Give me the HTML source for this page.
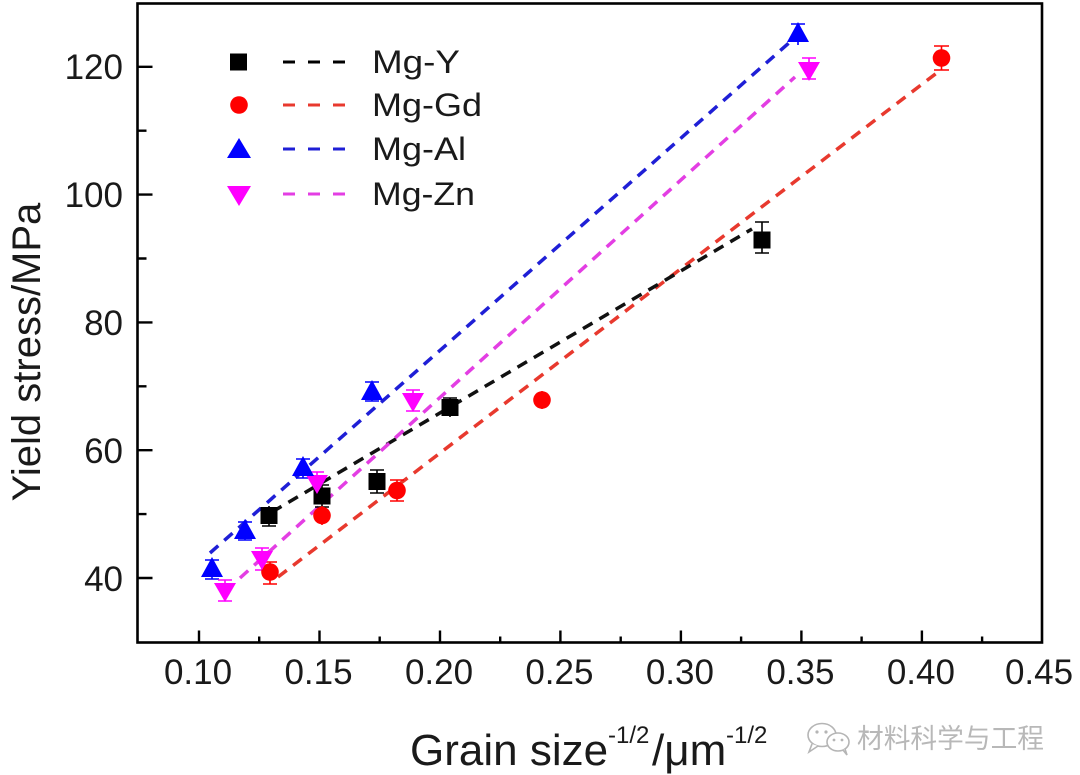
<!DOCTYPE html>
<html>
<head>
<meta charset="utf-8">
<style>
html,body{margin:0;padding:0;background:#fff;}
svg{display:block;}
</style>
</head>
<body>
<svg width="1080" height="775" viewBox="0 0 1080 775" xmlns="http://www.w3.org/2000/svg" font-family="Liberation Sans, Arial, sans-serif">
<rect width="1080" height="775" fill="#fff"/>

<!-- fitted dashed lines -->
<g fill="none" stroke-width="3.5" stroke-dasharray="11 8">
  <line x1="278" y1="577" x2="938" y2="72" stroke="#e8392e"/>
  <line x1="272" y1="512" x2="752" y2="229" stroke="#111"/>
  <line x1="240" y1="578" x2="795" y2="77" stroke="#e33ee3"/>
  <line x1="210" y1="553" x2="790" y2="42" stroke="#1f1fd6"/>
</g>

<!-- error bars -->
<g stroke-width="1.6" fill="none">
  <!-- blue -->
  <g stroke="#0000ff">
    <path d="M212 560V579M205 560H219M205 579H219"/>
    <path d="M245 522V540M238 522H252M238 540H252"/>
    <path d="M303 459V478M296 459H310M296 478H310"/>
    <path d="M372 382V401M365 382H379M365 401H379"/>
    <path d="M798 24V45M791 24H805"/>
  </g>
  <!-- magenta -->
  <g stroke="#ff00ff">
    <path d="M225 580V601M218 580H232M218 601H232"/>
    <path d="M262 548V570M255 548H269M255 570H269"/>
    <path d="M317 472V493M310 472H324"/>
    <path d="M413 390V411M406 390H420M406 411H420"/>
    <path d="M809 58V79M802 58H816M802 79H816"/>
  </g>
  <!-- black -->
  <g stroke="#000">
    <path d="M269 506V526M262 526H276"/>
    <path d="M322 485V507M315 485H329M315 507H329"/>
    <path d="M377 470V493M370 470H384M370 493H384"/>
    <path d="M450 398V417M443 398H457"/>
    <path d="M762 222V253M755 222H769M755 253H769"/>
  </g>
  <!-- red -->
  <g stroke="#ff0000">
    <path d="M270 562V584M263 562H277M263 584H277"/>
    <path d="M322 506V525"/>
    <path d="M397 480V501M390 480H404M390 501H404"/>
    <path d="M542 391V409"/>
    <path d="M941.5 46V70M934 46H949M934 70H949"/>
  </g>
</g>

<!-- markers -->
<g fill="#ff0000">
  <circle cx="270" cy="572" r="8.8"/>
  <circle cx="322" cy="515.5" r="8.8"/>
  <circle cx="397" cy="490.5" r="8.8"/>
  <circle cx="542" cy="400" r="8.8"/>
  <circle cx="941.5" cy="58" r="8.8"/>
</g>
<g fill="#000">
  <rect x="260.5" y="507" width="17" height="17"/>
  <rect x="313.5" y="487.5" width="17" height="17"/>
  <rect x="368.5" y="473" width="17" height="17"/>
  <rect x="441.5" y="399" width="17" height="17"/>
  <rect x="753.5" y="231.5" width="17" height="17"/>
</g>
<g fill="#ff00ff">
  <polygon points="214,583 236,583 225,602"/>
  <polygon points="251,551 273,551 262,570"/>
  <polygon points="306,475 328,475 317,494"/>
  <polygon points="402,393 424,393 413,412"/>
  <polygon points="798,62 820,62 809,81"/>
</g>
<g fill="#0000ff">
  <polygon points="212,557 201,577 223,577"/>
  <polygon points="245,519 234,539 256,539"/>
  <polygon points="303,456 292,476 314,476"/>
  <polygon points="372,380 361,400 383,400"/>
  <polygon points="798,22 787,42 809,42"/>
</g>

<!-- frame -->
<rect x="137.5" y="3.5" width="904.5" height="639" fill="none" stroke="#000" stroke-width="2.6"/>

<!-- y ticks -->
<g stroke="#000" stroke-width="2.4">
  <path d="M137.5 578H152.5M137.5 450.2H152.5M137.5 322.4H152.5M137.5 194.6H152.5M137.5 66.8H152.5"/>
  <path d="M137.5 514.1H146.5M137.5 386.3H146.5M137.5 258.5H146.5M137.5 130.7H146.5"/>
  <!-- x ticks -->
  <path d="M199 642.5V630.5M319.5 642.5V630.5M440 642.5V630.5M560.4 642.5V630.5M680.9 642.5V630.5M801.4 642.5V630.5M921.9 642.5V630.5"/>
  <path d="M259.2 642.5V636.5M379.7 642.5V636.5M500.2 642.5V636.5M620.7 642.5V636.5M741.1 642.5V636.5M861.6 642.5V636.5M982.1 642.5V636.5"/>
</g>

<!-- y tick labels -->
<g font-size="35" fill="#1a1a1a" text-anchor="end">
  <text x="123" y="591">40</text>
  <text x="123" y="463">60</text>
  <text x="123" y="335">80</text>
  <text x="123" y="207">100</text>
  <text x="123" y="79">120</text>
</g>
<!-- x tick labels -->
<g font-size="35" fill="#1a1a1a" text-anchor="middle">
  <text x="198" y="684">0.10</text>
  <text x="318.5" y="684">0.15</text>
  <text x="439" y="684">0.20</text>
  <text x="559.4" y="684">0.25</text>
  <text x="679.9" y="684">0.30</text>
  <text x="800.4" y="684">0.35</text>
  <text x="920.9" y="684">0.40</text>
  <text x="1039" y="684">0.45</text>
</g>

<!-- axis titles -->
<text transform="translate(40,352) rotate(-90)" font-size="40" fill="#1a1a1a" text-anchor="middle">Yield stress/MPa</text>
<g fill="#1a1a1a">
  <text x="410" y="765" font-size="44">Grain size</text>
  <text x="608" y="743" font-size="24">-1/2</text>
  <text x="652" y="765" font-size="44">/μm</text>
  <text x="726" y="743" font-size="24">-1/2</text>
</g>

<!-- legend -->
<rect x="230" y="53.5" width="17" height="17" fill="#000"/>
<circle cx="239" cy="105" r="8.8" fill="#ff0000"/>
<polygon points="239,138 227,158 251,158" fill="#0000ff"/>
<polygon points="227,186 251,186 239,206" fill="#ff00ff"/>
<g stroke-width="3" stroke-dasharray="12 13" fill="none">
  <line x1="283" y1="62" x2="345" y2="62" stroke="#000"/>
  <line x1="283" y1="105" x2="345" y2="105" stroke="#e8392e"/>
  <line x1="283" y1="149" x2="345" y2="149" stroke="#1f1fd6"/>
  <line x1="283" y1="194" x2="345" y2="194" stroke="#e33ee3"/>
</g>
<g font-size="32" fill="#1a1a1a">
  <text x="372" y="73" textLength="88" lengthAdjust="spacingAndGlyphs">Mg-Y</text>
  <text x="372" y="116" textLength="110" lengthAdjust="spacingAndGlyphs">Mg-Gd</text>
  <text x="372" y="160" textLength="94" lengthAdjust="spacingAndGlyphs">Mg-Al</text>
  <text x="372" y="205" textLength="103" lengthAdjust="spacingAndGlyphs">Mg-Zn</text>
</g>

<!-- watermark -->
<g fill="#fff" stroke="#b5b5b5" stroke-width="1.6">
  <ellipse cx="822" cy="735" rx="14" ry="11.5"/>
  <path d="M812 744 L809 752 L818 746" />
  <ellipse cx="838" cy="742" rx="11" ry="9"/>
  <path d="M843 750 L847 755 L845 749"/>
</g>
<g fill="#b5b5b5">
  <circle cx="817" cy="732" r="1.6"/>
  <circle cx="826" cy="732" r="1.6"/>
  <circle cx="834" cy="740" r="1.4"/>
  <circle cx="842" cy="740" r="1.4"/>
</g>
<text x="857" y="748" font-size="27" fill="#b8b8b8" font-family="Liberation Sans, Noto Sans CJK SC, sans-serif" textLength="187" lengthAdjust="spacingAndGlyphs">材料科学与工程</text>
</svg>
</body>
</html>
